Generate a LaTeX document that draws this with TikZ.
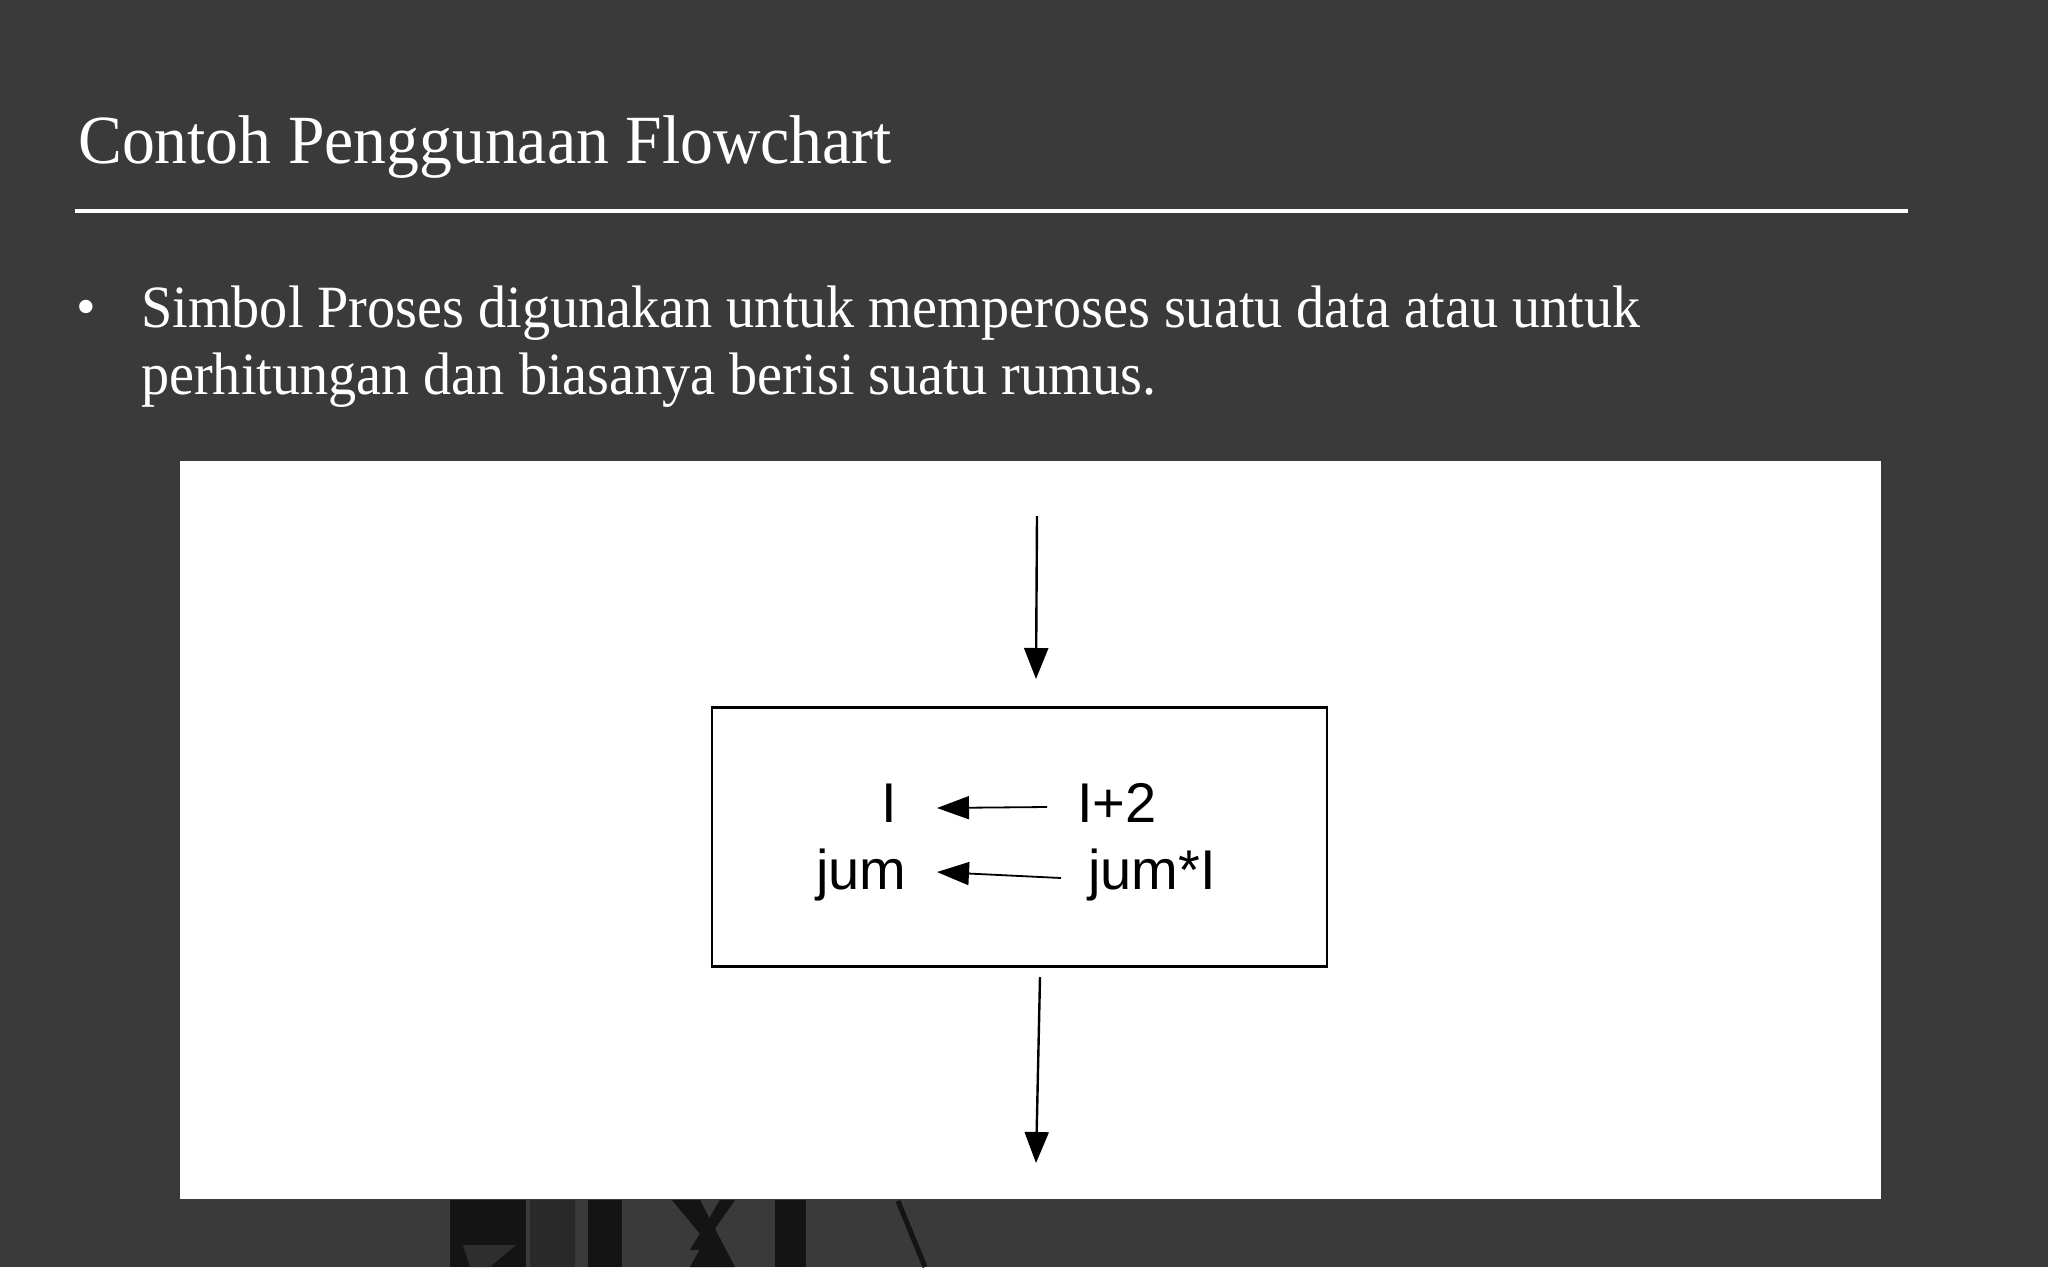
\documentclass[tikz,border=0pt]{standalone}
\usepackage{fontspec}
\setmainfont{Liberation Serif}
\newfontfamily\titlefont[FakeStretch=0.952]{Liberation Serif}
\newfontfamily\bodyfont[FakeStretch=0.937]{Liberation Serif}
\newfontfamily\arialfont{Liberation Sans}
\usetikzlibrary{arrows.meta}
\definecolor{slidebg}{HTML}{3A3A3A}
\definecolor{photodark}{HTML}{141414}
\tikzset{
  slidetext/.style={anchor=base west, inner sep=0pt, text=white, font=\bodyfont\fontsize{60}{72}\selectfont},
  boxtext/.style={inner sep=0pt, text=black, font=\arialfont\fontsize{56}{64}\selectfont},
  flowarrow/.style={line width=2.4pt, draw=black, -{Triangle[length=31pt,width=24pt]}},
  innerarrow/.style={line width=1.8pt, draw=black, -{Triangle[length=32pt,width=23pt]}},
  procbox/.style={draw=black, line width=2.8pt, fill=white}
}
\begin{document}
\begin{tikzpicture}[x=1pt,y=-1pt]
\useasboundingbox (0,0) rectangle (2048,1267);
\fill[slidebg] (0,0) rectangle (2048,1267);
% background photo fragment below the panel
\fill[photodark] (450,1200) rectangle (526,1267);
\fill[slidebg!80!black] (463,1245) -- (516,1245) -- (490,1267) -- (470,1267) -- cycle;
\fill[slidebg!70!black] (530,1200) rectangle (575,1267);
\fill[photodark] (588,1200) rectangle (622,1267);
\fill[photodark] (672,1200) -- (700,1200) -- (735,1267) -- (690,1267) -- (705,1240) -- cycle;
\fill[photodark] (720,1200) -- (735,1200) -- (700,1250) -- (690,1250) -- cycle;
\fill[photodark] (775,1200) rectangle (806,1267);
\draw[photodark, line width=5pt] (898,1201) -- (925,1267);
% title
\node[slidetext, font=\titlefont\fontsize{69}{80}\selectfont] (title) at (78,163) {Contoh Penggunaan Flowchart};
\fill[white] (75,209) rectangle (1908,213);
% bullet
\node[slidetext, font=\fontsize{56}{64}\selectfont] (bullet) at (76,325) {•};
\node[slidetext] (line1) at (141,327) {Simbol Proses digunakan untuk memperoses suatu data atau untuk};
\node[slidetext] (line2) at (141,394) {perhitungan dan biasanya berisi suatu rumus.};
% white panel
\fill[white] (180,461) rectangle (1881,1199);
% process box
\node[procbox, minimum width=615pt, minimum height=259pt, inner sep=0pt] (proc) at (1019.5,837) {};
\coordinate (intop) at (1037,516);
\coordinate (outbot) at (1036,1163);
\coordinate (inend) at (1036,679);
\coordinate (outstart) at (1040,977);
\draw[flowarrow] (intop) -- (inend);
\draw[flowarrow] (outstart) -- (outbot);
% box contents
\node[boxtext, anchor=base] (vi) at (889,822) {I};
\node[boxtext, anchor=base west] (vi2) at (1077,822) {I+2};
\node[boxtext, anchor=base west] (vjum) at (816,889) {jum};
\node[boxtext, anchor=base west] (vjum2) at (1088,889) {jum*I};
\coordinate (a1s) at (1047,807);
\coordinate (a1e) at (937,808);
\coordinate (a2s) at (1061,878);
\coordinate (a2e) at (937,872);
\draw[innerarrow] (a1s) -- (a1e);
\draw[innerarrow] (a2s) -- (a2e);
\end{tikzpicture}
\end{document}
